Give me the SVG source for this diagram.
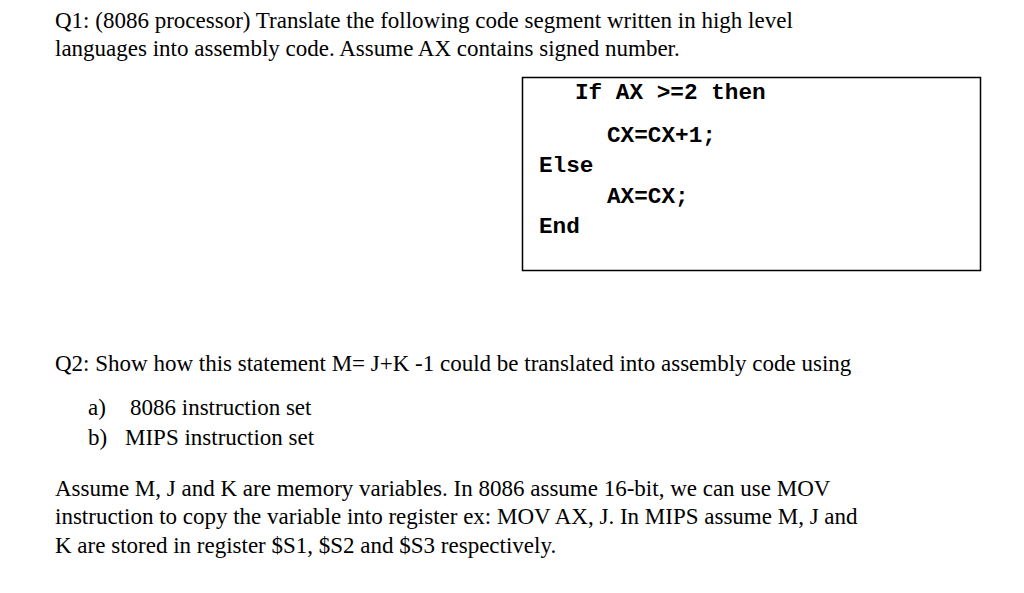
<svg xmlns="http://www.w3.org/2000/svg" width="1024" height="593" viewBox="0 0 1024 593">
<style>
.t{font-family:"Liberation Serif",serif;font-size:23px;fill:#000}
.c{font-family:"Liberation Mono",monospace;font-weight:bold;font-size:22.7px;fill:#000}
</style>
<rect width="1024" height="593" fill="#fff"/>
<g id="q1">
<text class="t" x="55" y="28">Q1: (8086 processor) Translate the following code segment written in high level</text>
<text class="t" x="55" y="56">languages into assembly code. Assume AX contains signed number.</text>
</g>
<g id="code">
<rect x="522.5" y="77.5" width="458" height="193" fill="#fff" stroke="#000" stroke-width="1.5"/>
<text class="c" x="575" y="99">If AX &gt;=2 then</text>
<text class="c" x="607" y="142">CX=CX+1;</text>
<text class="c" x="539" y="172">Else</text>
<text class="c" x="607" y="203">AX=CX;</text>
<text class="c" x="539" y="233">End</text>
</g>
<g id="q2">
<text class="t" x="55" y="371">Q2: Show how this statement M= J+K -1 could be translated into assembly code using</text>
<text class="t" x="88" y="415">a)</text>
<text class="t" x="130" y="415">8086 instruction set</text>
<text class="t" x="88" y="445">b)</text>
<text class="t" x="125" y="445">MIPS instruction set</text>
<text class="t" x="55" y="496">Assume M, J and K are memory variables. In 8086 assume 16-bit, we can use MOV</text>
<text class="t" x="55" y="524">instruction to copy the variable into register ex: MOV AX, J.  In MIPS assume M, J and</text>
<text class="t" x="55" y="553">K are stored in register $S1, $S2 and $S3 respectively.</text>
</g>
</svg>
